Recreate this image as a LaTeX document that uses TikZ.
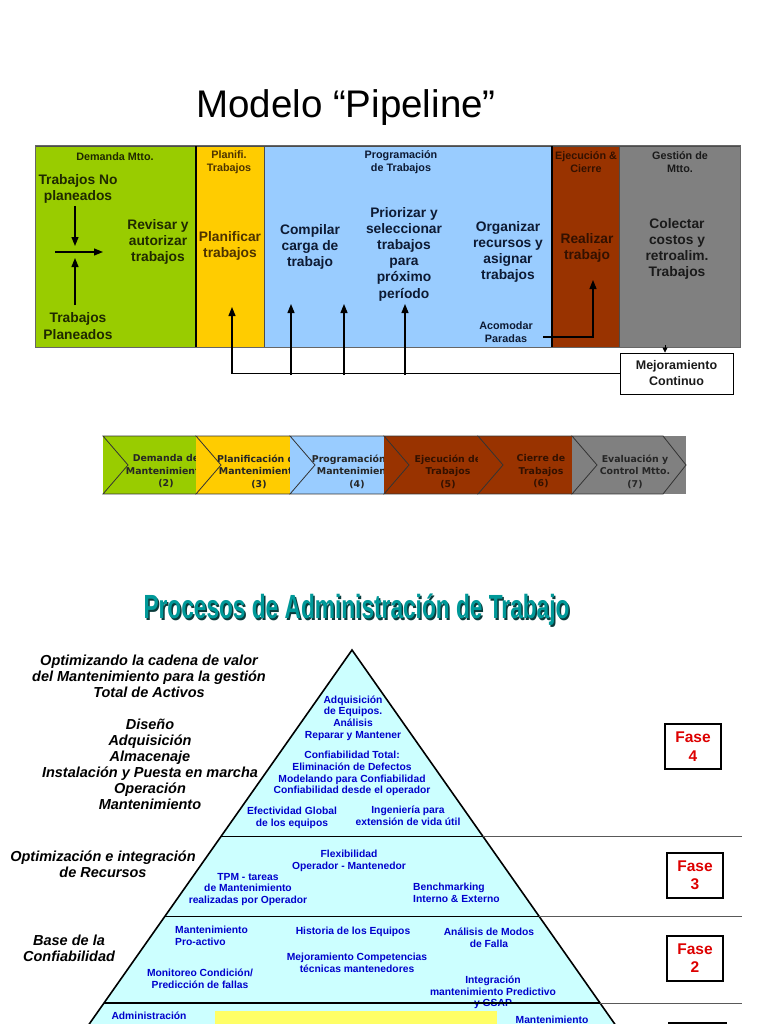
\documentclass[tikz,border=0pt]{standalone}
\usepackage{fontspec}
\setmainfont{Liberation Sans}
\newfontfamily\dvs{DejaVu Sans}
\usetikzlibrary{arrows.meta}
\newcommand\fsz[2]{\fontsize{#1}{#2}\selectfont}
\definecolor{cgreen}{HTML}{99CC00}
\definecolor{cyellow}{HTML}{FFCC00}
\definecolor{cblue}{HTML}{99CCFF}
\definecolor{cbrown}{HTML}{993300}
\definecolor{cgray}{HTML}{808080}
\definecolor{tgreen}{HTML}{1F2900}
\definecolor{tyellow}{HTML}{4D3300}
\definecolor{tblue}{HTML}{0D1A33}
\definecolor{tbrown}{HTML}{331100}
\definecolor{tgray}{HTML}{1A1A1A}
\definecolor{pfill}{HTML}{CCFFFF}
\definecolor{pblue}{HTML}{0000CC}
\definecolor{fred}{HTML}{DD0000}
\definecolor{tealc}{HTML}{009999}
\definecolor{shadc}{HTML}{0B3B3B}
\definecolor{pyel}{HTML}{FFFF66}
\tikzset{
 hdr/.style={font=\bfseries\fsz{10.8}{13}, align=center, inner sep=0},
 big/.style={font=\bfseries\fsz{13.8}{16.2}, align=center, inner sep=0},
 arr/.style={-{Triangle[length=9pt,width=7pt]}, line width=1.2pt},
 chevtxt/.style={font=\dvs\bfseries\fsz{9.4}{12.5}, align=center, inner sep=0},
 chevline/.style={draw=black!80, line width=0.8pt},
 pyr/.style={font=\bfseries\fsz{10.3}{11.7}, align=center, inner sep=0, text=pblue},
 lbl/.style={font=\bfseries\itshape\fsz{14.5}{16}, align=center, inner sep=0},
 fasebox/.style={draw=black, line width=2pt, fill=white, minimum width=56pt, minimum height=45pt, font=\bfseries\fsz{15.5}{18.5}, text=fred, align=center, inner sep=0},
 colbox/.style={line width=0.8pt, draw=black!70},
}
\begin{document}
\begin{tikzpicture}[x=1pt,y=-1pt]
\useasboundingbox (0,0) rectangle (768,1024);
\fill[white] (0,0) rectangle (768,1024);

% ---------- Title 1
\node[anchor=base, inner sep=0, font=\fsz{38.5}{40}] (t1) at (346,118) {Modelo “Pipeline”};

% ---------- Pipeline box
\filldraw[colbox, fill=cgreen] (35,146) rectangle (196,347);
\filldraw[colbox, fill=cyellow] (196,146) rectangle (264,347);
\filldraw[colbox, fill=cblue] (264,146) rectangle (552,347);
\filldraw[colbox, fill=cbrown] (552,146) rectangle (619,347);
\filldraw[colbox, fill=cgray] (619,146) rectangle (740,347);
\draw[line width=1.4pt] (196,146) -- (196,347);
\draw[line width=1.4pt] (552,146) -- (552,347);
\draw[line width=1pt, black!60] (35,146) rectangle (740,347);

\node[hdr, text=tgreen] (hdem) at (115,157) {Demanda Mtto.};
\node[big, text=tgreen] (tnp) at (78,189) {Trabajos No\\planeados};
\node[big, text=tgreen] (tpl) at (78,326) {Trabajos\\Planeados};
\node[big, text=tgreen] (rev) at (158,242) {Revisar y\\autorizar\\trabajos};
\coordinate (dnA) at (75,206); \coordinate (dnB) at (75,246);
\coordinate (upA) at (75,305); \coordinate (upB) at (75,258);
\coordinate (hzA) at (55,252); \coordinate (hzB) at (103,252);
\draw[arr] (dnA) -- (dnB);
\draw[arr] (upA) -- (upB);
\draw[arr] (hzA) -- (hzB);

\node[hdr, text=tyellow] (hpl) at (229,162.5) {Planifi.\\Trabajos};
\node[big, text=tyellow] (pla) at (230,246) {Planificar\\trabajos};

\node[hdr, text=tblue] (hpr) at (401,162.5) {Programación\\de Trabajos};
\node[big, text=tblue] (comp) at (310,247) {Compilar\\carga de\\trabajo};
\node[big, text=tblue] (prio) at (404,254) {Priorizar y\\seleccionar\\trabajos\\para\\próximo\\período};
\node[big, text=tblue] (org) at (508,252) {Organizar\\recursos y\\asignar\\trabajos};
\node[hdr, text=tblue] (acom) at (506,332.5) {Acomodar\\Paradas};

\node[hdr, text=tbrown] (hej) at (586,162.5) {Ejecución \&\\Cierre};
\node[big, text=tbrown] (real) at (587,248) {Realizar\\trabajo};

\node[hdr, text=tgray] (hge) at (680,162.5) {Gestión de\\Mtto.};
\node[big, text=tgray] (cole) at (677,249) {Colectar\\costos y\\retroalim.\\Trabajos};

\node[draw=black, line width=0.9pt, fill=white, minimum width=113pt, minimum height=41pt, inner sep=0, font=\bfseries\fsz{12.5}{16}, align=center, text=tgray] (mc) at (676.5,373.5) {Mejoramiento\\Continuo};

% feedback connectors
\coordinate (a1) at (232,307);
\coordinate (j2) at (291,375); \coordinate (a2) at (291,304);
\coordinate (j3) at (344,375); \coordinate (a3) at (344,304);
\coordinate (j4) at (405,375); \coordinate (a4) at (405,304);
\draw[arr] (mc.west) -| (a1);
\draw[arr] (j2) -- (a2);
\draw[arr] (j3) -- (a3);
\draw[arr] (j4) -- (a4);
\coordinate (apS) at (543,337); \coordinate (rtA) at (593,280);
\draw[arr] (apS) -| (rtA);
\coordinate (gbS) at (665,345);
\draw[-{Triangle[length=5pt,width=5pt]}, line width=0.8pt] (gbS) -- (mc.north -| gbS);

% ---------- Chevrons
\begin{scope}
\clip (103,436) rectangle (196,494);
\fill[cgreen] (103,436) rectangle (196,494);
\node[chevtxt, text=black!85] (ch2) at (166,471.5) {Demanda de\\Mantenimiento\\(2)};
\end{scope}
\draw[chevline] (196,436) -- (103,436) -- (128,465) -- (103,494) -- (196,494);

\begin{scope}
\clip (196,436) rectangle (290,494);
\fill[cyellow] (196,436) rectangle (290,494);
\node[chevtxt, text=black!85] (ch3) at (259,471.5) {Planificación de\\Mantenimiento\\(3)};
\end{scope}
\draw[chevline] (290,436) -- (196,436) -- (221,465) -- (196,494) -- (290,494);

\begin{scope}
\clip (290,436) rectangle (384,494);
\fill[cblue] (290,436) rectangle (384,494);
\node[chevtxt, text=black!85] (ch4) at (357,471.5) {Programación de\\Mantenimiento\\(4)};
\end{scope}
\draw[chevline] (384,436) -- (290,436) -- (315,465) -- (290,494) -- (384,494);

\begin{scope}
\clip (384,436) rectangle (478,494);
\fill[cbrown] (384,436) rectangle (478,494);
\node[chevtxt, text=tbrown] (ch5) at (448,471.5) {Ejecución de\\Trabajos\\(5)};
\end{scope}
\draw[chevline] (478,436) -- (384,436) -- (409,465) -- (384,494) -- (478,494);

\begin{scope}
\clip (478,436) rectangle (572,494);
\fill[cbrown] (478,436) rectangle (572,494);
\node[chevtxt, text=tbrown] (ch6) at (541,471.5) {Cierre de\\Trabajos\\(6)};
\end{scope}
\draw[chevline] (572,436) -- (478,436) -- (503,465) -- (478,494) -- (572,494);

\begin{scope}
\clip (572,436) rectangle (686,494);
\fill[cgray] (572,436) rectangle (686,494);
\node[chevtxt, text=black!85] (ch7) at (635,471.5) {Evaluación y\\Control Mtto.\\(7)};
\end{scope}
\draw[chevline] (572,436) -- (663,436) -- (686,465) -- (663,494) -- (572,494) -- (597,465) -- cycle;

% ---------- Title 2
\node[anchor=base, inner sep=0, font=\bfseries\fsz{33.5}{36}, xscale=0.677, transform shape, text=shadc] (t2s) at (358,620) {Procesos de Administración de Trabajo};
\node[anchor=base, inner sep=0, font=\bfseries\fsz{33.5}{36}, xscale=0.677, transform shape, text=tealc] (t2) at (356.5,618.5) {Procesos de Administración de Trabajo};

% ---------- Pyramid
\filldraw[fill=pfill, draw=black, line width=1.6pt] (352,650) -- (626,1040) -- (78,1040) -- cycle;
\draw[line width=1.6pt] (221,836.5) -- (483,836.5);
\draw[line width=1.6pt] (165,916.5) -- (539,916.5);
\draw[line width=0.9pt, black!65] (483,836.5) -- (742,836.5);
\draw[line width=0.9pt, black!65] (539,916.5) -- (742,916.5);
\draw[line width=0.9pt, black!65] (600,1003) -- (742,1003);
\fill[pyel] (215,1011) rectangle (497,1030);

\node[pyr] (p41) at (353,718) {Adquisición\\de Equipos.\\Análisis\\Reparar y Mantener};
\node[pyr] (p42) at (352,773.5) {Confiabilidad Total:\\Eliminación de Defectos\\Modelando para Confiabilidad\\Confiabilidad desde el operador};
\node[pyr] (p43) at (292,817.5) {Efectividad Global\\de los equipos};
\node[pyr] (p44) at (408,816) {Ingeniería para\\extensión de vida útil};

\node[pyr] (p31) at (349,861) {Flexibilidad\\Operador - Mantenedor};
\node[pyr] (p32) at (248,889.5) {TPM - tareas\\de Mantenimiento\\realizadas por Operador};
\node[pyr, align=left, anchor=west] (p33) at (413,892.5) {Benchmarking\\Interno \& Externo};

\node[pyr, align=left, anchor=west] (p21) at (175,936) {Mantenimiento\\Pro-activo};
\node[pyr] (p22) at (353,932) {Historia de los Equipos};
\node[pyr] (p23) at (489,937.5) {Análisis de Modos\\de Falla};
\node[pyr] (p24) at (357,963) {Mejoramiento Competencias\\técnicas mantenedores};
\node[pyr] (p25) at (200,978.5) {Monitoreo Condición/\\Predicción de fallas};
\node[pyr] (p26) at (493,992.5) {Integración\\mantenimiento Predictivo\\y GSAP};
\draw[line width=1.6pt] (104,1003) -- (600,1003);

\node[pyr] (p11) at (149,1015.5) {Administración};
\node[pyr] (p12) at (552,1019.5) {Mantenimiento};

% ---------- Left labels
\node[lbl] (l1) at (149,676) {Optimizando la cadena de valor\\del Mantenimiento para la gestión\\Total de Activos};
\node[lbl] (l2) at (150,764) {Diseño\\Adquisición\\Almacenaje\\Instalación y Puesta en marcha\\Operación\\Mantenimiento};
\node[lbl] (l3) at (103,864) {Optimización e integración\\de Recursos};
\node[lbl] (l4) at (69,948) {Base de la\\Confiabilidad};

% ---------- Fase boxes
\node[fasebox] (f4) at (693,746.5) {Fase\\4};
\node[fasebox] (f3) at (695,875) {Fase\\3};
\node[fasebox] (f2) at (695,958) {Fase\\2};
\node[fasebox, anchor=north, line width=3pt] (f1) at (697,1022) {};
\end{tikzpicture}
\end{document}
